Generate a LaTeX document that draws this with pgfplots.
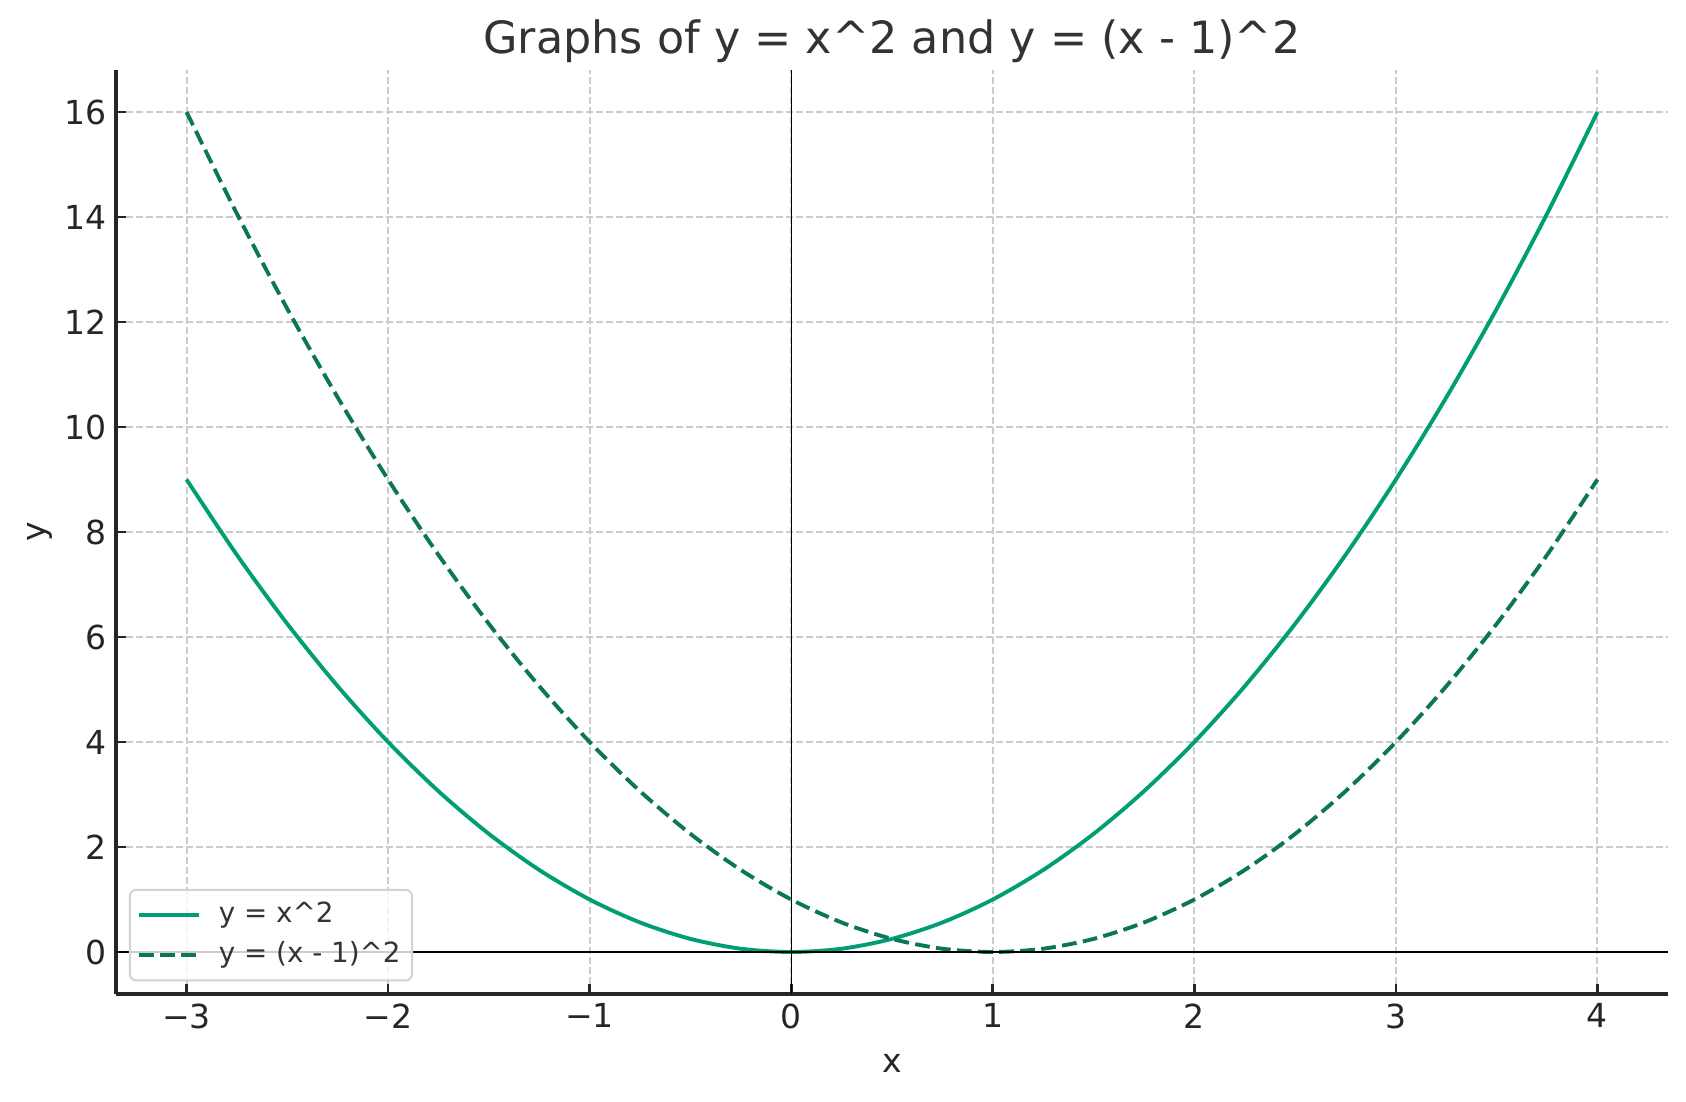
\documentclass[border=0pt]{standalone}
\usepackage{fontspec}
\setmainfont{DejaVu Sans}
\usepackage{pgfplots}
\pgfplotsset{compat=1.18}
\usepackage{pgfplotstable}
\definecolor{solidc}{RGB}{0,158,115}
\definecolor{dashc}{RGB}{12,118,90}
\definecolor{txt}{RGB}{38,38,38}
\definecolor{ttl}{RGB}{51,51,51}
\definecolor{gridc}{RGB}{204,204,204}
\definecolor{legedge}{RGB}{210,210,210}

\pgfplotstableread{
x a b
-3 9 16
-2.75 7.5625 14.0625
-2.5 6.25 12.25
-2.25 5.0625 10.5625
-2 4 9
-1.75 3.0625 7.5625
-1.5 2.25 6.25
-1.25 1.5625 5.0625
-1 1 4
-0.75 0.5625 3.0625
-0.5 0.25 2.25
-0.25 0.0625 1.5625
0 0 1
0.25 0.0625 0.5625
0.5 0.25 0.25
0.75 0.5625 0.0625
1 1 0
1.25 1.5625 0.0625
1.5 2.25 0.25
1.75 3.0625 0.5625
2 4 1
2.25 5.0625 1.5625
2.5 6.25 2.25
2.75 7.5625 3.0625
3 9 4
3.25 10.5625 5.0625
3.5 12.25 6.25
3.75 14.0625 7.5625
4 16 9
}\data

\begin{document}
\begin{tikzpicture}
\path[use as bounding box] (-41.76pt,-38.52pt) rectangle (565.2pt,357.84pt);
\begin{axis}[
  at={(0pt,0pt)}, anchor=south west,
  width=558.72pt, height=332.64pt, scale only axis,
  xmin=-3.35, xmax=4.35, ymin=-0.8, ymax=16.8,
  axis x line=bottom, axis y line=left,
  axis line style={-, draw=txt, line width=1.2pt},
  tick align=inside, major tick length=3.6pt,
  tick style={draw=txt, line width=1pt},
  xtick={-3,-2,-1,0,1,2,3,4},
  xticklabels={−3,−2,−1,0,1,2,3,4},
  ytick={0,2,4,6,8,10,12,14,16},
  yticklabels={0,2,4,6,8,10,12,14,16},
  tick label style={font=\fontsize{11.9}{14}\selectfont, text=txt},
  label style={font=\fontsize{11.9}{14}\selectfont, text=txt},
  xlabel={x}, ylabel={y},
  xlabel style={at={(axis description cs:0.5,-0.0854)}, anchor=base},
  ylabel style={at={(axis description cs:-0.04904,0.5)}, anchor=center},
  title={Graphs of y = x\textasciicircum 2 and y = (x - 1)\textasciicircum 2},
  title style={font=\fontsize{16}{19}\selectfont, text=ttl, at={(axis description cs:0.5,1.0173)}, anchor=base, yshift=-5.8pt},
  grid=major,
  major grid style={draw=gridc, line width=0.7pt, dash pattern=on 2.4pt off 1.2pt},
  legend cell align=left,
  legend image code/.code={\draw[#1] (0pt,0pt) -- (21.6pt,0pt);},
  legend style={at={(axis description cs:0.00838,0.0137)}, anchor=south west,
    draw=legedge, line width=0.7pt, rounded corners=2.2pt,
    fill=white, fill opacity=0.8, text opacity=1, draw opacity=1,
    font=\fontsize{10}{12}\selectfont, text=ttl,
    inner xsep=2.6pt, inner ysep=4.2pt, row sep=5pt, column sep=4.9pt,
    nodes={inner xsep=1.5pt, inner ysep=0pt, text height=7.4pt, text depth=2.2pt}},
]
\addplot[solidc, line width=1.4pt, smooth] table[x=x, y=a] {\data};
\addlegendentry{y = x\textasciicircum 2}
\addplot[dashc, line width=1.4pt, smooth, dash pattern=on 5.3pt off 2.3pt] table[x=x, y=b] {\data};
\addlegendentry{y = (x - 1)\textasciicircum 2}
\addplot[black, line width=0.5pt, forget plot] coordinates {(-3.35,0) (4.35,0)};
\addplot[black, line width=0.5pt, forget plot] coordinates {(0,-0.8) (0,16.8)};
\end{axis}
\end{tikzpicture}
\end{document}
